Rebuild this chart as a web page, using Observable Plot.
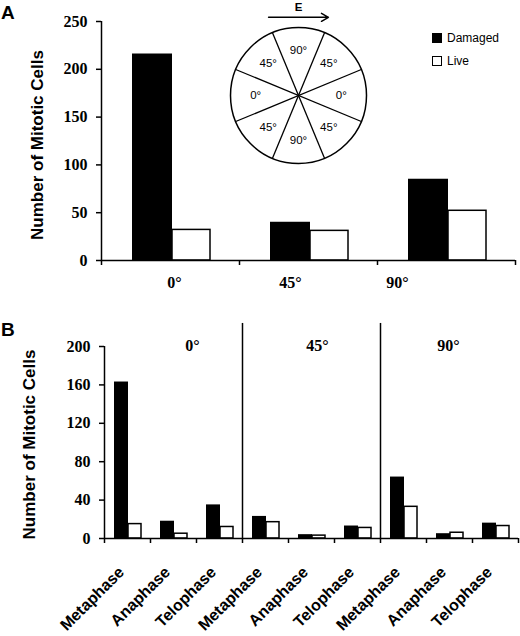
<!DOCTYPE html>
<html>
<head>
<meta charset="utf-8">
<script src="https://cdn.jsdelivr.net/npm/d3@7"></script>
<script src="https://cdn.jsdelivr.net/npm/@observablehq/plot@0.6"></script>
<style>
  body { margin: 0; background: #fff; }
  #fig { position: relative; width: 520px; height: 636px; overflow: hidden; background: #fff;
         font-family: "Liberation Sans", Arial, sans-serif; color: #000; }
  #fig svg { display: block; }
  #fig svg [aria-label="y-axis tick label"] text {
    font-family: "Liberation Serif", "Times New Roman", serif !important; font-weight: bold; }
  .panel { position: absolute; left: 0; }
  .letter { position: absolute; left: 1px; font-weight: bold; font-size: 19px; line-height: 1; }
  .inset { position: absolute; left: 223px; top: 0; pointer-events: none; }
  .legend { position: absolute; left: 432px; top: 32px; font-size: 12px; }
  .legend .item { display: flex; align-items: center; height: 12px; margin-bottom: 11px; }
  .legend .sw { width: 8px; height: 8px; border: 1.5px solid #000; margin-right: 5px; }
</style>
</head>
<body>
<div id="fig"></div>
<script>
// Field orientation relative to the electric field, and mitotic phases
const angles = ["0°", "45°", "90°"];
const phases = ["Metaphase", "Anaphase", "Telophase"];
const series = ["Damaged", "Live"];
const seriesFill = ["#000", "#fff"];

// Panel A: totals per orientation
const damagedA = [216, 40, 85];
const liveA = [32, 31, 52];
const ticksA = [0, 50, 100, 150, 200, 250];

// Panel B: per phase within each orientation (order: angles × phases)
const damagedB = [163, 18, 35,  23, 4, 13,  64, 5, 16];
const liveB    = [ 15,  5, 12,  17, 3, 11,  33, 6, 13];
const ticksB = [0, 40, 80, 120, 160, 200];

// Inset: dish sectors and their orientation labels
const spokeAngles = [22.5, 67.5, 112.5, 157.5];
const sectorAngles = [0, 45, 90, 135, 180, 225, 270, 315];
const sectorLabels = ["0°", "45°", "90°", "45°", "0°", "45°", "90°", "45°"];

const yTitle = "Number of Mitotic Cells";
const SERIF = "Liberation Serif, Times New Roman, serif";
const SANS = "Liberation Sans, Arial, sans-serif";
const W = 520;

const fig = document.getElementById("fig");

// ---------- Panel A ----------
const mA = {top: 21, bottom: 45, left: 101, right: 5, height: 305};
const stepA = (W - mA.left - mA.right) / angles.length;
const rowsA = angles.map((a, i) => ({angle: a, damaged: damagedA[i], live: liveA[i]}));
const nudgeA = [4, -18, -49];

const plotA = Plot.plot({
  width: W, height: mA.height,
  marginTop: mA.top, marginBottom: mA.bottom, marginLeft: mA.left, marginRight: mA.right,
  style: {background: "transparent", color: "#000", fontFamily: SERIF},
  x: {domain: angles, padding: 0, axis: null, label: null},
  y: {domain: [0, 250], label: null},
  marks: [
    Plot.barY(rowsA, {x: "angle", y: "damaged", fill: "#000", insetLeft: 31, insetRight: 67}),
    Plot.barY(rowsA, {x: "angle", y: "live", fill: "#fff", stroke: "#000", strokeWidth: 1.5, insetLeft: 71, insetRight: 29}),
    Plot.axisY({ticks: ticksA, tickSize: 5, tickPadding: 9, strokeWidth: 1.5, fontSize: 16, fontWeight: "bold", fontFamily: SERIF}),
    Plot.ruleY([0], {strokeWidth: 1.5}),
    Plot.ruleX([angles[0]], {x: d => d, dx: -stepA / 2, y1: 0, y2: 250, strokeWidth: 1.5}),
    Plot.ruleX(angles, {x: d => d, dx: -stepA / 2, y1: 0, y2: 0, insetBottom: -5, strokeWidth: 1.5}),
    Plot.ruleX([angles[angles.length - 1]], {x: d => d, dx: stepA / 2, y1: 0, y2: 0, insetBottom: -5, strokeWidth: 1.5}),
    ...angles.map((a, i) => Plot.text([a], {x: d => d, frameAnchor: "bottom", dy: 27, dx: nudgeA[i],
      fontSize: 16, fontWeight: "bold", fontFamily: SERIF})),
    Plot.text([yTitle], {frameAnchor: "left", textAnchor: "middle", rotate: -90, dx: -64, dy: 4,
      fontFamily: SANS, fontSize: 17, fontWeight: "bold"})
  ]
});
plotA.classList.add("panel");
plotA.style.top = "0px";
fig.appendChild(plotA);

// Inset dish diagram (unit radius = dish radius)
const R = 68;
const inset = Plot.plot({
  width: 150, height: 170, margin: 0,
  style: {background: "transparent", fontFamily: SANS, color: "#000"},
  x: {domain: [-75 / R, 75 / R], axis: null},
  y: {domain: [-75 / R, 95 / R], axis: null},
  marks: [
    Plot.dot([0], {x: 0, y: 0, r: R, fill: "#fff", stroke: "#000", strokeWidth: 1.5}),
    Plot.link(spokeAngles, {
      x1: d => -Math.cos(d * Math.PI / 180), y1: d => -Math.sin(d * Math.PI / 180),
      x2: d => Math.cos(d * Math.PI / 180), y2: d => Math.sin(d * Math.PI / 180),
      stroke: "#000", strokeWidth: 1.3
    }),
    Plot.text(sectorAngles, {
      x: d => 0.63 * Math.cos(d * Math.PI / 180), y: d => 0.66 * Math.sin(d * Math.PI / 180),
      text: (d, i) => sectorLabels[i], fontSize: 11.5
    }),
    Plot.arrow([0], {x1: -0.44, x2: 0.44, y1: 1.15, y2: 1.15, stroke: "#000", strokeWidth: 1.5, headLength: 8}),
    Plot.text(["E"], {x: 0, y: 1.29, fontSize: 11.5, fontWeight: "bold"})
  ]
});
inset.classList.add("inset");
fig.appendChild(inset);

// Legend
const legend = document.createElement("div");
legend.className = "legend";
series.forEach((s, i) => {
  const item = document.createElement("div");
  item.className = "item";
  const sw = document.createElement("span");
  sw.className = "sw";
  sw.style.background = seriesFill[i];
  const label = document.createElement("span");
  label.textContent = s;
  item.append(sw, label);
  legend.appendChild(item);
});
fig.appendChild(legend);

// ---------- Panel B ----------
const mB = {top: 41, bottom: 98, left: 104, right: 2, height: 331};
const keyOf = (a, p) => `${a} ${p}`;
const rowsB = [];
angles.forEach((a, i) => phases.forEach((p, j) => {
  rowsB.push({key: keyOf(a, p), angle: a, phase: p, damaged: damagedB[i * 3 + j], live: liveB[i * 3 + j]});
}));
const keysB = rowsB.map(d => d.key);
const stepB = (W - mB.left - mB.right) / keysB.length;
const nudgeB = [19, 6, -1];

const plotB = Plot.plot({
  width: W, height: mB.height,
  marginTop: mB.top, marginBottom: mB.bottom, marginLeft: mB.left, marginRight: mB.right,
  style: {background: "transparent", color: "#000", fontFamily: SERIF},
  x: {domain: keysB, padding: 0, axis: null, label: null},
  y: {domain: [0, 200], label: null},
  marks: [
    Plot.barY(rowsB, {x: "key", y: "damaged", fill: "#000", insetLeft: 10, insetRight: 22}),
    Plot.barY(rowsB, {x: "key", y: "live", fill: "#fff", stroke: "#000", strokeWidth: 1.5, insetLeft: 24, insetRight: 9}),
    Plot.axisY({ticks: ticksB, tickSize: 5, tickPadding: 9, strokeWidth: 1.5, fontSize: 16, fontWeight: "bold", fontFamily: SERIF}),
    // rotated phase labels under each band, hung from the baseline
    Plot.text(rowsB, {x: "key", y: () => 0, text: "phase", rotate: -45, textAnchor: "end", lineAnchor: "middle",
      dx: -6, dy: 31, fontSize: 16, fontWeight: "bold", fontFamily: SANS}),
    Plot.ruleY([0], {strokeWidth: 1.5}),
    Plot.ruleX([keysB[0]], {x: d => d, dx: -stepB / 2, y1: 0, y2: 200, strokeWidth: 1.5}),
    Plot.ruleX(keysB, {x: d => d, dx: -stepB / 2, y1: 0, y2: 0, insetBottom: -5, strokeWidth: 1.5}),
    Plot.ruleX([keysB[keysB.length - 1]], {x: d => d, dx: stepB / 2, y1: 0, y2: 0, insetBottom: -5, strokeWidth: 1.5}),
    // separators between orientation groups
    Plot.ruleX(angles.slice(1).map(a => keyOf(a, phases[0])), {x: d => d, dx: -stepB / 2, y1: 0, y2: 224, strokeWidth: 1.5}),
    ...angles.map((a, i) => Plot.text([a], {x: () => keyOf(a, phases[1]), frameAnchor: "top", dy: -7, dx: nudgeB[i],
      fontSize: 16, fontWeight: "bold", fontFamily: SERIF})),
    Plot.text([yTitle], {frameAnchor: "left", textAnchor: "middle", rotate: -90, dx: -75, dy: 2,
      fontFamily: SANS, fontSize: 17, fontWeight: "bold"})
  ]
});
plotB.classList.add("panel");
plotB.style.top = mA.height + "px";
fig.appendChild(plotB);

// Panel letters
["A", "B"].forEach((t, i) => {
  const el = document.createElement("div");
  el.className = "letter";
  el.textContent = t;
  el.style.top = (i === 0 ? 3 : 320) + "px";
  fig.appendChild(el);
});
</script>
</body>
</html>
